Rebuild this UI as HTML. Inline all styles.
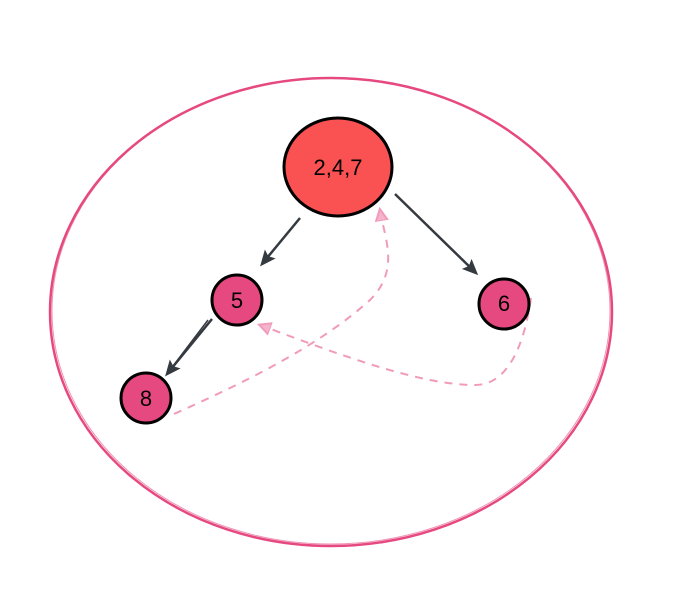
<!DOCTYPE html>
<html><head><style>html,body{margin:0;padding:0;background:#fff;}svg{display:block;}</style></head>
<body>
<svg width="682" height="590" viewBox="0 0 682 590" xmlns="http://www.w3.org/2000/svg">
<defs>
<marker id="ad" markerWidth="16" markerHeight="14" refX="13" refY="7" orient="auto" markerUnits="userSpaceOnUse"><path d="M0,0 L16,7 L0,14 L3,7 Z" fill="#343a40"/></marker>
<marker id="ap" markerWidth="14" markerHeight="14" refX="11" refY="7" orient="auto" markerUnits="userSpaceOnUse"><path d="M0,1 L12,7 L0,13 Z" fill="#f7b3cb" stroke="#f19bbb" stroke-width="2"/></marker>
</defs>
<ellipse cx="331" cy="312" rx="281" ry="234" fill="none" stroke="#e64980" stroke-width="2.5"/>
<ellipse cx="331" cy="311" rx="279" ry="233" fill="none" stroke="#e64980" stroke-width="1" opacity="0.6"/>
<g fill="none" stroke="#f19bbb" stroke-width="2" stroke-dasharray="8,7">
<path d="M174,414 C250,380 320,345 370,300 C400,270 385,240 380,210" marker-end="url(#ap)"/>
<path d="M531,298 C525,340 510,385 475,385 C420,385 340,355 260,325" marker-end="url(#ap)"/>
</g>
<g stroke="#343a40" stroke-width="2.5" fill="none">
<path d="M300,218 L262,264" marker-end="url(#ad)"/>
<path d="M395,194 L476,273" marker-end="url(#ad)"/>
<path d="M212,319 L167,374" marker-end="url(#ad)"/>
<path d="M208,320 L170,370" stroke-width="1.5"/>
</g>
<ellipse cx="338" cy="167" rx="54" ry="49" fill="#fa5252" stroke="#000" stroke-width="3"/>
<circle cx="237" cy="300" r="25" fill="#e64980" stroke="#000" stroke-width="3"/>
<circle cx="504" cy="304" r="25" fill="#e64980" stroke="#000" stroke-width="3"/>
<circle cx="146" cy="398" r="25" fill="#e64980" stroke="#000" stroke-width="3"/>
<g font-family="Liberation Sans, sans-serif" font-size="22" fill="#000" text-anchor="middle">
<text x="338" y="175">2,4,7</text>
<text x="237" y="308">5</text>
<text x="504" y="311">6</text>
<text x="146" y="406">8</text>
</g>
</svg>
</body></html>
